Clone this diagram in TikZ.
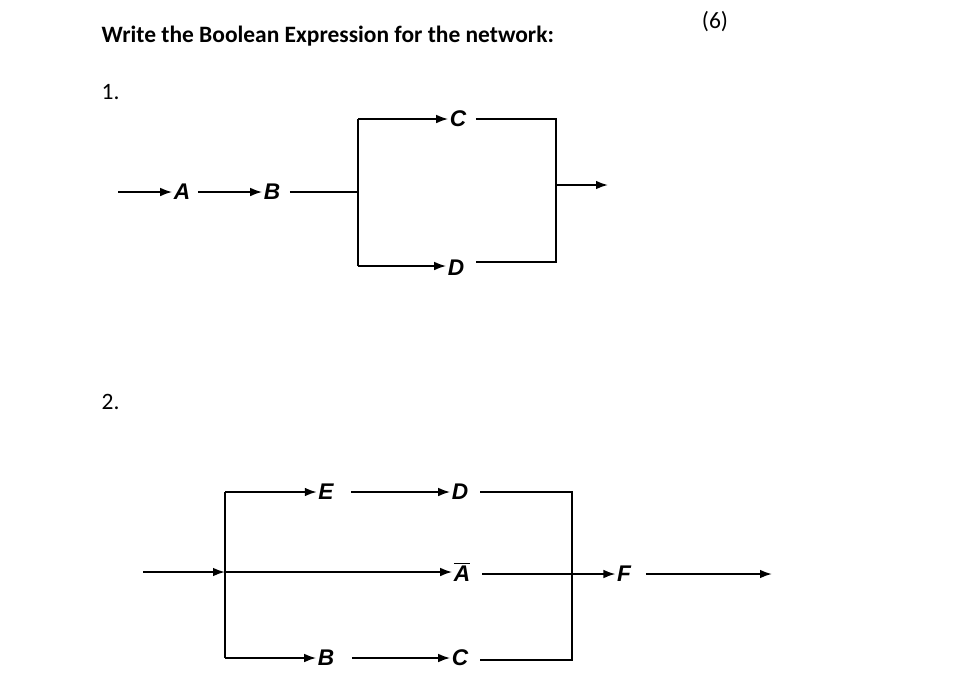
\documentclass[tikz,border=0pt]{standalone}
\usepackage{fontspec}
\setmainfont{Carlito}
\newfontfamily\lab{Liberation Sans}
\usetikzlibrary{arrows.meta}
\begin{document}
\begin{tikzpicture}[x=0.75pt,y=-0.75pt,
  ln/.style={line width=1.4pt},
  ar/.style={line width=1.4pt,-{Latex[length=9pt,width=6.5pt]}},
  lbl/.style={font=\lab\bfseries\itshape\fontsize{17}{19}\selectfont,inner sep=1pt}]
\useasboundingbox (0,0) rectangle (960,690);
\node[font=\bfseries\fontsize{17.6}{20}\selectfont,anchor=west] (title) at (97,36) {Write the Boolean Expression for the network:};
\node[font=\fontsize{17.6}{20}\selectfont] (six) at (715,22) {(6)};
\node[font=\fontsize{17.6}{20}\selectfont,anchor=west] (n1) at (97,92) {1.};
\node[font=\fontsize{17.6}{20}\selectfont,anchor=west] (n2) at (97,402) {2.};
% diagram 1
\coordinate (a0) at (118,192);
\node[lbl] (A) at (182,192) {A};
\node[lbl] (B) at (272,192) {B};
\node[lbl] (C) at (458,119) {C};
\node[lbl] (D) at (456,268) {D};
\coordinate (L1) at (358,192);
\coordinate (LT) at (358,119);
\coordinate (LB) at (358,266);
\coordinate (RT) at (556,119);
\coordinate (RB) at (556,262);
\coordinate (R1) at (556,185);
\coordinate (o1) at (608,185);
\draw[ar] (a0) -- (A.west);
\draw[ar] (A.east) ++(6,0) -- (B.west);
\draw[ln] (B.east) ++(8,0) -- (L1);
\draw[ln] (LB) -- (LT);
\draw[ar] (LT) -- (C.west);
\draw[ar] (LB) -- (D.west |- LB);
\draw[ln] (C.east) ++(8,0) -- (RT) -- (RB) -- ([xshift=8pt]D.east |- RB);
\draw[ar] (R1) -- (o1);
% diagram 2
\node[lbl] (E) at (326,492) {E};
\node[lbl] (D2) at (460,492) {D};
\node[lbl] (Ab) at (462,572) {$\overline{\mbox{A}}$};
\node[lbl] (F) at (624,574) {F};
\node[lbl] (B2) at (326,658) {B};
\node[lbl] (C2) at (460,658) {C};
\coordinate (in2) at (143,572);
\coordinate (lm) at (225,572);
\coordinate (lt) at (225,492);
\coordinate (lb) at (225,658);
\coordinate (rt) at (572,492);
\coordinate (rm) at (572,574);
\coordinate (rb) at (572,660);
\coordinate (out2) at (772,574);
\draw[ar] (in2) -- (lm);
\draw[ln] (lt) -- (lb);
\draw[ar] (lt) -- (E.west);
\draw[ar] ([xshift=12pt]E.east) -- (D2.west);
\draw[ar] (lm) -- (Ab.west |- lm);
\draw[ar] (lb) -- (B2.west);
\draw[ar] ([xshift=12pt]B2.east) -- (C2.west);
\draw[ln] ([xshift=8pt]D2.east) -- (rt) -- (rb) -- ([xshift=8pt]C2.east |- rb);
\draw[ln] ([xshift=8pt]Ab.east |- rm) -- (rm);
\draw[ar] (rm) -- (F.west);
\draw[ar] ([xshift=10pt]F.east) -- (out2);
\end{tikzpicture}
\end{document}
